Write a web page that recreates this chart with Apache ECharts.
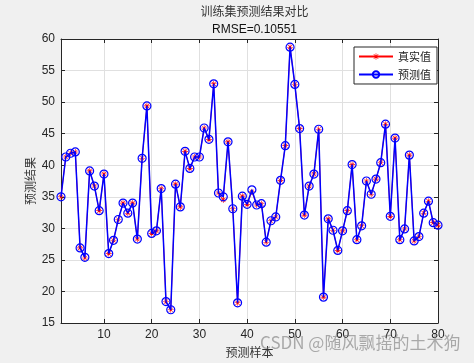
<!DOCTYPE html>
<html><head><meta charset="utf-8">
<script src="https://cdn.jsdelivr.net/npm/echarts@6/dist/echarts.min.js"></script>
<style>html,body{margin:0;padding:0;background:#f0f0f0;}#c{width:474px;height:363px;}</style>
</head><body><div id="c"></div>
<script>
const samples = Array.from({length: 80}, (_, i) => i + 1);
const trueValues = [
  35.0, 41.3, 41.9, 42.1, 26.9, 25.3, 39.1, 36.7, 32.8, 38.6,
  26.0, 28.1, 31.4, 34.0, 32.4, 34.0, 28.3, 41.1, 49.4, 29.2,
  29.6, 36.3, 18.4, 17.1, 37.0, 33.4, 42.2, 39.5, 41.3, 41.3,
  45.9, 44.1, 52.9, 35.6, 34.5, 43.7, 33.1, 18.2, 35.1, 33.8,
  35.8, 33.7, 33.9, 27.8, 31.2, 31.8, 37.6, 43.1, 58.7, 52.8,
  45.8, 32.1, 36.7, 38.6, 45.7, 19.1, 31.5, 29.7, 26.5, 29.6,
  32.8, 40.1, 28.2, 30.4, 37.5, 35.4, 37.8, 40.4, 46.5, 31.9,
  44.3, 28.2, 29.9, 41.6, 28.0, 28.7, 32.4, 34.3, 30.9, 30.5
];
const predValues = [
  35.0, 41.3, 41.9, 42.1, 26.9, 25.4, 39.1, 36.7, 32.8, 38.6,
  26.0, 28.1, 31.4, 34.0, 32.4, 34.0, 28.3, 41.1, 49.4, 29.2,
  29.6, 36.3, 18.4, 17.1, 37.0, 33.4, 42.2, 39.5, 41.3, 41.3,
  45.9, 44.1, 52.9, 35.6, 35.0, 43.7, 33.1, 18.2, 35.1, 33.8,
  36.1, 33.7, 33.9, 27.8, 31.2, 31.8, 37.6, 43.1, 58.7, 52.8,
  45.8, 32.1, 36.7, 38.6, 45.7, 19.1, 31.5, 29.7, 26.5, 29.6,
  32.8, 40.1, 28.2, 30.4, 37.5, 35.4, 37.8, 40.4, 46.5, 31.9,
  44.3, 28.2, 29.9, 41.6, 28.0, 28.7, 32.4, 34.3, 30.9, 30.5
];
const xTicks = [10, 20, 30, 40, 50, 60, 70, 80];
const titleText = '训练集预测结果对比';
const subTitleText = 'RMSE=0.10551';
const seriesNames = ['真实值', '预测值'];
const xName = '预测样本';
const yName = '预测结果';

const starPath = 'path://M-1,-10L1,-10L1,10L-1,10Z M-10,-1L10,-1L10,1L-10,1Z M-7.8,-6.4L-6.4,-7.8L7.8,6.4L6.4,7.8Z M6.4,-7.8L7.8,-6.4L-6.4,7.8L-7.8,6.4Z';
const axisCol = '#262626';
const font = 'Liberation Sans, Arial, sans-serif';
const cjk = 'Noto Sans CJK SC, sans-serif';

const chart = echarts.init(document.getElementById('c'), null, {renderer: 'canvas'});
const common = {
  axisLine: {show: true, onZero: false, lineStyle: {color: axisCol, width: 1}},
  axisTick: {show: true, inside: true, length: 4, lineStyle: {color: axisCol}},
};
chart.setOption({
  backgroundColor: '#f0f0f0',
  animation: false,
  title: [
    {text: titleText, left: 249.5, textAlign: 'center', top: 0,
     textStyle: {fontFamily: cjk, fontSize: 12, fontWeight: 'normal', color: '#333'}},
    {text: subTitleText, left: 249.5, textAlign: 'center', top: 19,
     textStyle: {fontFamily: font, fontSize: 12, fontWeight: 'normal', color: '#111'}}
  ],
  grid: {left: 61, right: 36, top: 39, bottom: 39, show: true, backgroundColor: '#fff', borderWidth: 0},
  legend: {
    orient: 'vertical', left: 354, top: 47, padding: [4, 6, 4, 4],
    backgroundColor: '#fff', borderColor: axisCol, borderWidth: 1,
    itemWidth: 34, itemHeight: 8, itemGap: 7,
    textStyle: {fontFamily: cjk, fontSize: 11, color: '#222'},
    data: seriesNames
  },
  xAxis: [
    Object.assign({type: 'value', min: 1, max: 80,
      name: xName, nameLocation: 'middle', nameGap: 23, nameMoveOverlap: false,
      nameTextStyle: {fontFamily: cjk, fontSize: 12, color: '#333'},
      axisLabel: {customValues: xTicks, fontFamily: font, fontSize: 12, color: axisCol, margin: 6},
      splitLine: {show: true, lineStyle: {color: '#e0e0e0', width: 1}}}, common,
      {axisTick: {show: true, inside: true, length: 4, customValues: xTicks, lineStyle: {color: axisCol}}}),
    Object.assign({type: 'value', min: 1, max: 80, position: 'top',
      axisLabel: {show: false}, splitLine: {show: false}}, common,
      {axisTick: {show: true, inside: true, length: 4, customValues: xTicks, lineStyle: {color: axisCol}}})
  ],
  yAxis: [
    Object.assign({type: 'value', min: 15, max: 60, interval: 5,
      name: yName, nameLocation: 'middle', nameGap: 25, nameRotate: 90, nameMoveOverlap: false,
      nameTextStyle: {fontFamily: cjk, fontSize: 12, color: '#333'},
      axisLabel: {fontFamily: font, fontSize: 12, color: axisCol, margin: 6},
      splitLine: {show: true, lineStyle: {color: '#e0e0e0', width: 1}}}, common),
    Object.assign({type: 'value', min: 15, max: 60, interval: 5, position: 'right',
      axisLabel: {show: false}, splitLine: {show: false}}, common)
  ],
  series: [
    {name: seriesNames[0], type: 'line', xAxisIndex: 0, yAxisIndex: 0,
     data: samples.map((x, i) => [x, trueValues[i]]),
     symbol: starPath, symbolSize: 6, showAllSymbol: true,
     itemStyle: {color: '#ff0000'}, lineStyle: {color: '#ff0000', width: 0.8}, z: 2},
    {name: seriesNames[1], type: 'line', xAxisIndex: 0, yAxisIndex: 0,
     data: samples.map((x, i) => [x, predValues[i]]),
     symbol: 'circle', symbolSize: 8, showAllSymbol: true,
     itemStyle: {color: 'rgba(0,0,0,0)', borderColor: '#0000ff', borderWidth: 1.2},
     lineStyle: {color: '#0000ff', width: 1.5}, z: 3}
  ],
  graphic: [
    {type: 'text', left: 260, top: 334, silent: true, z: 100,
     style: {text: 'CSDN @随风飘摇的土木狗', font: '17px ' + cjk, fill: 'rgba(110,110,110,0.55)'}}
  ]
});
</script></body></html>
